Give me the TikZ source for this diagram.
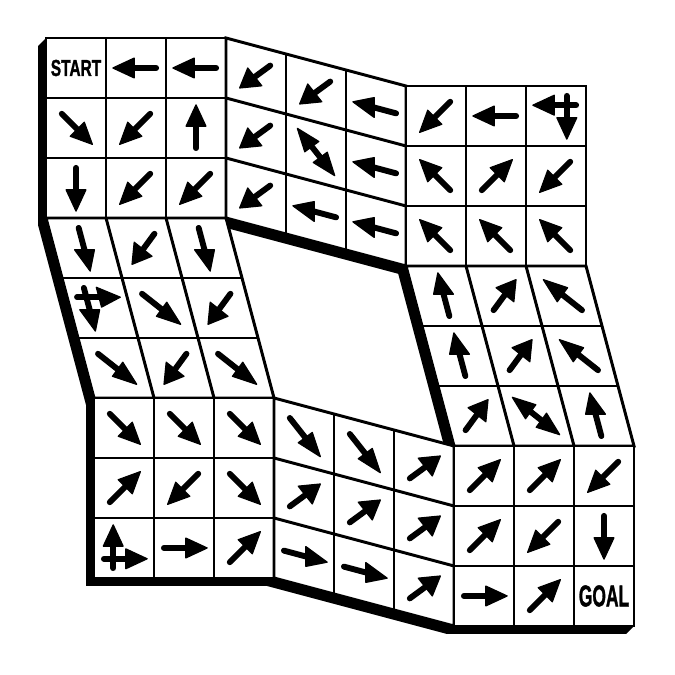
\documentclass[tikz,border=0pt]{standalone}
\usepackage{fontspec}
\usepackage{tikz}
\usetikzlibrary{calc}
\newfontfamily\signfont[FakeBold=1.6]{Liberation Sans}
\pgfdeclarelayer{shadow}
\pgfsetlayers{shadow,main}

%Cell symbols, drawn round the centre of one cell
\newcommand\cellarrow[2]{%
	\begin{scope}[rotate=#1]
		\draw[shaft] (-0.335,0) -- (0.1,0); %shaft
		\filldraw[tiphead] (0.385,0) -- (0.03,0.165) -- (0.03,-0.165) -- cycle; %head
	\end{scope}}
\newcommand\celldouble[2]{%
	\begin{scope}[rotate=#1]
		\draw[shaft] (-0.15,0) -- (0.15,0);
		\filldraw[tiphead] (0.44,0) -- (0.1,0.165) -- (0.1,-0.165) -- cycle;
		\filldraw[tiphead] (-0.44,0) -- (-0.1,0.165) -- (-0.1,-0.165) -- cycle;
	\end{scope}}
\newcommand\cellcross[2]{%
	\begin{scope}[shift={(#2+180:0.18)}]\cellarrow{#1}{0}\end{scope}
	\begin{scope}[shift={(#1+180:0.18)}]\cellarrow{#2}{0}\end{scope}}
\newcommand\celltext[2]{\node[signtext] (#1) {\resizebox{0.84cm}{#2cm}{#1}};} %#2 cap height

%One 3x3 block: #1,#2 top left corner, #3 shift of the bottom side, #4 drop of the right side, #5 cells
\newcommand\drawblock[5]{%
	\pgfmathsetmacro \bx {#3/3} %side shift per cell
	\pgfmathsetmacro \by {#4/3} %drop per cell
	\begin{pgfonlayer}{shadow}
		\fill (#1,#2) -- ({#1+\Dx},{#2+\Dy}) -- ({#1+#3+\Dx},{#2-3+\Dy}) -- ({#1+3+#3+\Dx},{#2-3-#4+\Dy})
			-- ({#1+3+#3},{#2-3-#4}) -- ({#1+3},{#2-#4}) -- cycle; %depth of the block
	\end{pgfonlayer}
	\begin{scope}[cm={1,-\by,-\bx,1,(#1,#2)}]
		\fill[white] (0,0) -- (3,0) -- (3,-3) -- (0,-3) -- cycle;
		\foreach \g in {1,2} {
			\draw[gridline] (\g,0) -- (\g,-3);
			\draw[gridline] (0,-\g) -- (3,-\g);
		}
		\draw[gridline] (0,0) -- (3,0) -- (3,-3) -- (0,-3) -- cycle; %rim
		\foreach \kind/\p/\q [count=\i from 0] in {#5} {
			\pgfmathtruncatemacro \col {mod(\i,3)}
			\pgfmathtruncatemacro \row {div(\i,3)}
			\begin{scope}[shift={(\col+0.5,-\row-0.5)}]
				\csname cell\kind\endcsname{\p}{\q}
			\end{scope}
		}
	\end{scope}}

\begin{document}
\begin{tikzpicture}[
	gridline/.style={line width=1.4pt, line join=miter},
	shaft/.style={line width=2.8pt, line cap=round},
	tiphead/.style={line width=0.6pt, line join=round},
	signtext/.style={inner sep=0pt, font=\signfont\bfseries}]
	\def \Dx {-0.13} %depth of the board, to the left
	\def \Dy {-0.13} %depth of the board, downwards
	\def \Sk {0.8} %skew of the slanted blocks
	\useasboundingbox (-0.767,-10.617) rectangle (10.483,0.633);

	%Top row
	\drawblock{0}{0}{0}{0}{text/START/0.27, arrow/180/0, arrow/180/0, arrow/315/0, arrow/225/0, arrow/90/0, arrow/270/0, arrow/225/0, arrow/225/0}
	\drawblock{3}{0}{0}{\Sk}{arrow/225/0, arrow/225/0, arrow/180/0, arrow/225/0, double/135/0, arrow/180/0, arrow/225/0, arrow/180/0, arrow/180/0}
	\drawblock{6}{-0.8}{0}{0}{arrow/225/0, arrow/180/0, cross/180/270, arrow/135/0, arrow/45/0, arrow/225/0, arrow/135/0, arrow/135/0, arrow/135/0}
	%Middle row
	\drawblock{0}{-3}{\Sk}{0}{arrow/270/0, arrow/225/0, arrow/270/0, cross/0/270, arrow/315/0, arrow/225/0, arrow/315/0, arrow/225/0, arrow/315/0}
	\drawblock{6}{-3.8}{\Sk}{0}{arrow/90/0, arrow/45/0, arrow/135/0, arrow/90/0, arrow/45/0, arrow/135/0, arrow/45/0, double/135/0, arrow/90/0}
	%Bottom row
	\drawblock{0.8}{-6}{0}{0}{arrow/315/0, arrow/315/0, arrow/315/0, arrow/45/0, arrow/225/0, arrow/315/0, cross/90/0, arrow/0/0, arrow/45/0}
	\drawblock{3.8}{-6}{0}{\Sk}{arrow/315/0, arrow/315/0, arrow/45/0, arrow/45/0, arrow/45/0, arrow/45/0, arrow/0/0, arrow/0/0, arrow/45/0}
	\drawblock{6.8}{-6.8}{0}{0}{arrow/45/0, arrow/45/0, arrow/225/0, arrow/45/0, arrow/225/0, arrow/270/0, arrow/0/0, arrow/45/0, text/GOAL/0.35}
\end{tikzpicture}
\end{document}
